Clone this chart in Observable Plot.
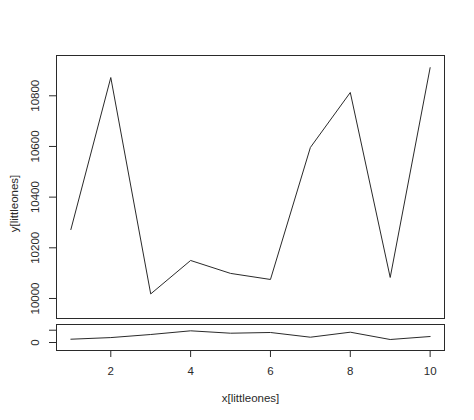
<!DOCTYPE html>
<html>
<head>
<meta charset="utf-8">
<script src="https://cdn.jsdelivr.net/npm/d3@7"></script>
<script src="https://cdn.jsdelivr.net/npm/@observablehq/plot@0.6"></script>
<style>
  html, body { margin: 0; padding: 0; background: white; }
  #chart { position: relative; width: 474px; height: 420px; background: white; }
</style>
</head>
<body>
<div id="chart"></div>
<script>
// Data
const xs = [1, 2, 3, 4, 5, 6, 7, 8, 9, 10];
const bigValues = [10272, 10872, 10018, 10150, 10099, 10075, 10596, 10813, 10083, 10911];
const littleValues = [134, 200, 325, 475, 378, 407, 215, 419, 122, 244];
const upperTicks = [10000, 10200, 10400, 10600, 10800];
const lowerTicks = [0, 500];
const lowerTickLabels = ["0", ""];
const xTicks = [2, 4, 6, 8, 10];
const xLabel = "x[littleones]";
const yLabel = "y[littleones]";

const big = xs.map((x, i) => ({x, y: bigValues[i]}));
const little = xs.map((x, i) => ({x, y: littleValues[i]}));

const font = "'Liberation Sans', Arial, Helvetica, sans-serif";
const ink = "#2a2a2a";
const W = 474, H = 420;
const xDomain = [0.64, 10.36];

const upper = Plot.plot({
  width: W, height: H,
  marginTop: 55, marginBottom: 102, marginLeft: 56, marginRight: 30,
  style: {position: "absolute", left: "0px", top: "0px", background: "none", fontFamily: font, fontSize: "11.5px", color: ink},
  x: {domain: xDomain, axis: null},
  y: {domain: [9921, 10959], axis: null},
  marks: [
    Plot.frame({stroke: ink, strokeWidth: 1}),
    Plot.axisY({ticks: upperTicks, tickSize: 7, tickFormat: () => "", label: null, stroke: ink}),
    Plot.text(upperTicks, {y: d => d, text: d => String(d), frameAnchor: "left", dx: -21, rotate: -90, textAnchor: "middle", lineAnchor: "middle", fill: ink}),
    Plot.line(big, {x: "x", y: "y", stroke: ink, strokeWidth: 1}),
    Plot.text([yLabel], {text: d => d, frameAnchor: "left", dx: -42, dy: 16.5, rotate: -90, textAnchor: "middle", lineAnchor: "middle", fill: ink})
  ]
});

const lower = Plot.plot({
  width: W, height: H,
  marginTop: 324, marginBottom: 70, marginLeft: 56, marginRight: 30,
  style: {position: "absolute", left: "0px", top: "0px", background: "none", fontFamily: font, fontSize: "11.5px", color: ink},
  x: {domain: xDomain, axis: null},
  y: {domain: [-325, 732], axis: null},
  marks: [
    Plot.frame({stroke: ink, strokeWidth: 1}),
    Plot.axisY({ticks: lowerTicks, tickSize: 7, tickFormat: () => "", label: null, stroke: ink}),
    Plot.text(lowerTicks, {y: d => d, text: (d, i) => lowerTickLabels[i], frameAnchor: "left", dx: -21, rotate: -90, textAnchor: "middle", lineAnchor: "middle", fill: ink}),
    Plot.axisX({ticks: xTicks, tickSize: 7, tickFormat: () => "", label: null, stroke: ink}),
    Plot.text(xTicks, {x: d => d, text: d => String(d), frameAnchor: "bottom", dy: 21, textAnchor: "middle", lineAnchor: "middle", fill: ink}),
    Plot.line(little, {x: "x", y: "y", stroke: ink, strokeWidth: 1}),
    Plot.text([xLabel], {text: d => d, frameAnchor: "bottom", dy: 48, textAnchor: "middle", lineAnchor: "middle", fill: ink})
  ]
});

const chart = document.getElementById("chart");
chart.appendChild(upper);
chart.appendChild(lower);
</script>
</body>
</html>
